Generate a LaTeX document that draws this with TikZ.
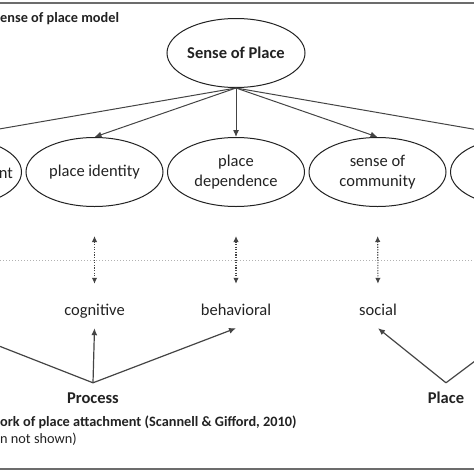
\documentclass[tikz,border=0pt]{standalone}
\usepackage{fontspec}
\setmainfont{Carlito}
\usepackage{tikz}
\usetikzlibrary{arrows.meta,shapes.geometric}
\definecolor{ink}{HTML}{222222}
\definecolor{linegray}{HTML}{444444}
\definecolor{framegray}{HTML}{6C6C6C}
\newcommand{\arw}{-{Latex[length=7pt,width=6pt]}}
\newcommand{\darw}{{Latex[length=6pt,width=5.5pt]}-{Latex[length=6pt,width=5.5pt]}}
\tikzset{
  facet/.style={ellipse,draw=ink,line width=1pt,minimum width=137pt,minimum height=69pt,
    inner sep=0pt,align=center,text=ink,font=\fontsize{16.5}{20}\selectfont},
  lbl/.style={inner xsep=0pt,inner ysep=9pt,text height=11pt,text depth=4pt,
    text=ink,font=\fontsize{16.5}{20}\selectfont},
  capt/.style={anchor=base west,inner sep=0pt,text=ink,font=\fontsize{14.3}{16}\selectfont},
}

\begin{document}
\begin{tikzpicture}[x=1pt,y=-1pt,color=linegray]
\useasboundingbox (0,0) rectangle (474,474);
\clip (0,0) rectangle (474,474);
%frame
\draw[framegray,line width=2.4pt] (0,3) -- (474,3);
\draw[framegray,line width=2.4pt] (0,469) -- (474,469);
\node[capt,font=\fontsize{14.3}{16}\selectfont\bfseries] (ttl) at (0,22) {ense of place model};
%sense of place and its facets
\node[facet,font=\fontsize{16.5}{20}\selectfont\bfseries] (sop) at (236,53) {Sense of Place};
\node[facet] (patt) at (-47,172) {};
\node[facet] (pid) at (94.5,172) {place identity};
\node[facet] (pdep) at (236,172) {place\\dependence};
\node[facet] (scom) at (377.5,172) {sense of\\community};
\node[facet] (pfac) at (519,172) {};
\node[lbl,anchor=base east,inner ysep=0pt] (pattx) at (13,178) {nt};
\foreach \t in {patt,pid,pdep,scom,pfac}
  \draw[line width=1pt,\arw] (sop.south) -- (\t.north);
%divider
\draw[gray!60,line width=1pt,dash pattern=on 1pt off 2pt] (0,260) -- (474,260);
%psychological process
\node[lbl,anchor=base] (cog) at (94.5,315) {cognitive};
\node[lbl,anchor=base] (beh) at (236,315) {behavioral};
\node[lbl,anchor=base] (soc) at (378,315) {social};
\foreach \a/\b in {pid/cog,pdep/beh,scom/soc}
  \draw[line width=1.1pt,dash pattern=on 1.2pt off 1.4pt,shorten <=29pt,shorten >=11pt,\darw] (\a.south) -- (\b.north);
%process and place dimensions
\node[lbl,anchor=base,font=\fontsize{16.5}{20}\selectfont\bfseries] (proc) at (93,403) {Process};
\node[lbl,anchor=base,font=\fontsize{16.5}{20}\selectfont\bfseries] (plc) at (446,403) {Place};
\coordinate (aff) at (-47,328);
\coordinate (phy) at (519,328);
\draw[line width=1.2pt,\arw] (proc.north) -- (aff);
\draw[line width=1.2pt,\arw] (proc.north) -- (cog.south);
\draw[line width=1.2pt,\arw] (proc.north) -- (beh.south);
\draw[line width=1.2pt,\arw] (plc.north) -- (soc.south);
\draw[line width=1.2pt,\arw] (plc.north) -- (phy);
%caption
\node[capt,font=\fontsize{14.3}{16}\selectfont\bfseries] (cap1) at (0,426) {ork of place attachment (Scannell \& Gifford, 2010)};
\node[capt] (cap2) at (0,443) {n not shown)};
\end{tikzpicture}
\end{document}
